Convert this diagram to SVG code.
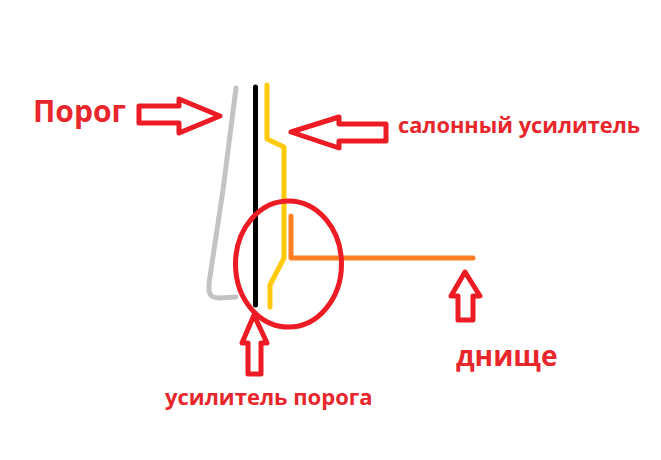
<svg xmlns="http://www.w3.org/2000/svg" width="661" height="460" viewBox="0 0 661 460">
<style>
.l{fill:none;stroke-width:5;stroke-linecap:round;stroke-linejoin:round}
.a{fill:none;stroke:#ed1c24;stroke-width:5;stroke-linejoin:round}
text{font-family:"Open Sans","Liberation Sans",sans-serif;font-weight:700;fill:#e8262c}
</style>
<rect width="661" height="460" fill="#fff"/>
<g id="parts">
<path id="porog" class="l" stroke="#c3c3c3" d="M236 88L223 190L209 283V291Q210 298 219 298L236 297"/>
<path id="threshold-reinforcement" class="l" stroke="#000" d="M255.500 87V305"/>
<path id="cabin-reinforcement" class="l" stroke="#ffc90e" d="M267 85V139L284 147V258L270 285V307"/>
<path id="floor" class="l" stroke="#ff7f27" d="M291 216V258H473"/>
</g>
<ellipse id="highlight" cx="288.500" cy="264" rx="53" ry="63" fill="none" stroke="#ed1c24" stroke-width="5"/>
<g id="connectors">
<path class="a" d="M139 106H179V99L220 116L179 133V123H139Z"/>
<path class="a" d="M291 132L339 117V124H386V141H339V148Z"/>
<path class="a" d="M254 315L267 343H261V374H248V343H242Z"/>
<path class="a" d="M465 272L480 296H473V320H458V296H451Z"/>
</g>
<g id="labels">
<text x="33" y="122" font-size="30">Порог</text>
<text x="398" y="133" font-size="21.800">салонный усилитель</text>
<text x="165" y="405" font-size="22">усилитель порога</text>
<text x="456" y="366" font-size="28">днище</text>
</g>
</svg>
